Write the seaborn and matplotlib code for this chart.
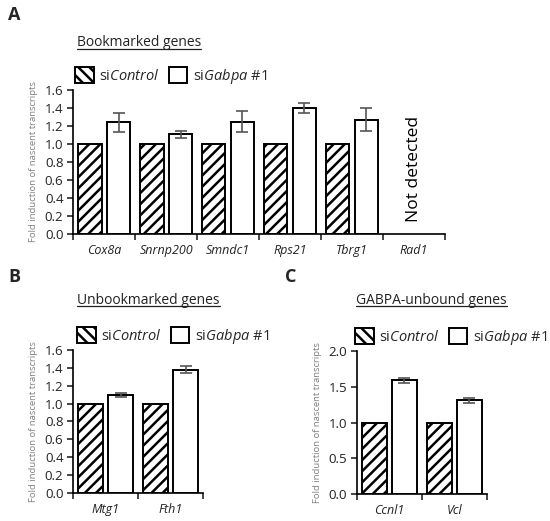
import numpy as np
import pandas as pd
import matplotlib
matplotlib.use('Agg')
import matplotlib.pyplot as plt
import seaborn as sns
from matplotlib.patches import Patch
from matplotlib.lines import Line2D
from matplotlib.ticker import FixedLocator

sns.set_style('ticks')
plt.rcParams['font.family'] = ['Open Sans', 'DejaVu Sans']
plt.rcParams['mathtext.fontset'] = 'custom'
plt.rcParams['mathtext.rm'] = 'Open Sans'
plt.rcParams['mathtext.it'] = 'Open Sans:italic'
plt.rcParams['hatch.linewidth'] = 1.8

# data
conditions = ['siControl', 'siGabpa #1']

genes_a = ['Cox8a', 'Snrnp200', 'Smndc1', 'Rps21', 'Tbrg1', 'Rad1']
ctrl_a = [1.0, 1.0, 1.0, 1.0, 1.0, np.nan]
kd_a = [1.24, 1.11, 1.25, 1.40, 1.27, np.nan]
err_a = [0.11, 0.04, 0.12, 0.06, 0.13, np.nan]

genes_b = ['Mtg1', 'Fth1']
ctrl_b = [1.0, 1.0]
kd_b = [1.10, 1.38]
err_b = [0.02, 0.04]

genes_c = ['Ccnl1', 'Vcl']
ctrl_c = [1.0, 1.0]
kd_c = [1.59, 1.31]
err_c = [0.03, 0.04]


def make_df(genes, ctrl, kd):
    return pd.DataFrame({
        'gene': genes * 2,
        'cond': [conditions[0]] * len(genes) + [conditions[1]] * len(genes),
        'value': list(ctrl) + list(kd),
    })


def draw_panel(ax, genes, ctrl, kd, err, ymax, ystep):
    df = make_df(genes, ctrl, kd)
    sns.barplot(data=df, x='gene', y='value', hue='cond', order=genes,
                hue_order=conditions, palette=['white', 'white'],
                edgecolor='black', linewidth=1.4, width=0.93, gap=0.18,
                errorbar=None, legend=False, ax=ax)
    for bar in ax.containers[0]:
        bar.set_hatch('///')
    # error bars on the knockdown bars
    for bar in ax.containers[1]:
        i = int(round(bar.get_x() + bar.get_width() / 2))
        if np.isnan(err[i]):
            continue
        ax.errorbar(bar.get_x() + bar.get_width() / 2, bar.get_height(),
                    yerr=err[i], color='#555555', capsize=4, elinewidth=1.2,
                    capthick=1.2, zorder=5)
    ax.set_xlim(-0.5, len(genes) - 0.5)
    ax.set_ylim(0, ymax)
    ax.set_yticks(np.arange(0, ymax + 1e-9, ystep))
    ax.yaxis.set_major_formatter(plt.FormatStrFormatter('%.1f'))
    ax.xaxis.set_minor_locator(FixedLocator(np.arange(-0.5, len(genes), 1.0)))
    ax.tick_params(axis='x', which='major', length=0, pad=7)
    ax.tick_params(axis='x', which='minor', length=4, width=1.2, direction='out')
    ax.tick_params(axis='y', length=4, width=1.2, direction='out', pad=3)
    ax.set_xticks(range(len(genes)))
    ax.set_xticklabels(genes, fontstyle='italic', fontsize=9, color='#222222')
    for lab in ax.get_yticklabels():
        lab.set_fontsize(9.5)
        lab.set_color('#222222')
    ax.set_xlabel('')
    ax.set_ylabel('Fold induction of nascent transcripts', fontsize=6.8,
                  color='#808080', labelpad=5)
    sns.despine(ax=ax)
    for s in ['left', 'bottom']:
        ax.spines[s].set_linewidth(1.2)
        ax.spines[s].set_color('black')


fig = plt.figure(figsize=(5.5, 5.21), dpi=100)
ax_a = fig.add_axes([0.133, 0.551, 0.676, 0.276])
ax_b = fig.add_axes([0.133, 0.054, 0.236, 0.274])
ax_c = fig.add_axes([0.649, 0.052, 0.236, 0.274])

draw_panel(ax_a, genes_a, ctrl_a, kd_a, err_a, 1.6, 0.2)
draw_panel(ax_b, genes_b, ctrl_b, kd_b, err_b, 1.6, 0.2)
draw_panel(ax_c, genes_c, ctrl_c, kd_c, err_c, 2.0, 0.5)

ax_a.text(5, 0.13, 'Not detected', rotation=90, ha='center', va='bottom',
          fontsize=12.5, color='black')

handles = [Patch(facecolor='white', edgecolor='black', linewidth=1.4, hatch='\\\\\\'),
           Patch(facecolor='white', edgecolor='black', linewidth=1.4)]
labels = [r'si$\mathit{Control}$', r'si$\mathit{Gabpa}$ #1']
legend_x = {ax_a: 75, ax_b: 77, ax_c: 355}
for ax in (ax_a, ax_b, ax_c):
    ax.legend(handles, labels, ncol=2, frameon=False, fontsize=10.5,
              loc='lower left',
              bbox_to_anchor=(legend_x[ax] / 550, ax.get_position().y1 + 4 / 521),
              bbox_transform=fig.transFigure,
              handlelength=1.3, handleheight=1.3, handletextpad=0.35,
              columnspacing=0.6, borderaxespad=0, borderpad=0)

# panel titles
titles = []
titles.append(fig.text(77 / 550, 1 - 43 / 521, 'Bookmarked genes', fontsize=10,
                       va='center', color='#222222'))
titles.append(fig.text(77 / 550, 1 - 300 / 521, 'Unbookmarked genes', fontsize=10,
                       va='center', color='#222222'))
titles.append(fig.text(356 / 550, 1 - 300 / 521, 'GABPA-unbound genes', fontsize=10,
                       va='center', color='#222222'))

fig.text(8 / 550, 1 - 15 / 521, 'A', fontsize=13, fontweight='bold', va='center')
fig.text(8 / 550, 1 - 277 / 521, 'B', fontsize=13, fontweight='bold', va='center')
fig.text(285 / 550, 1 - 277 / 521, 'C', fontsize=13, fontweight='bold', va='center')

# underline the titles
fig.canvas.draw()
inv = fig.transFigure.inverted()
for t in titles:
    bb = t.get_window_extent()
    (x0, y0), (x1, y1) = inv.transform([(bb.x0, bb.y0), (bb.x1, bb.y1)])
    fig.add_artist(Line2D([x0, x1], [y0 + 1.5 / 521] * 2, transform=fig.transFigure,
                          color='#222222', linewidth=0.9))

plt.savefig('out.png', dpi=100)
